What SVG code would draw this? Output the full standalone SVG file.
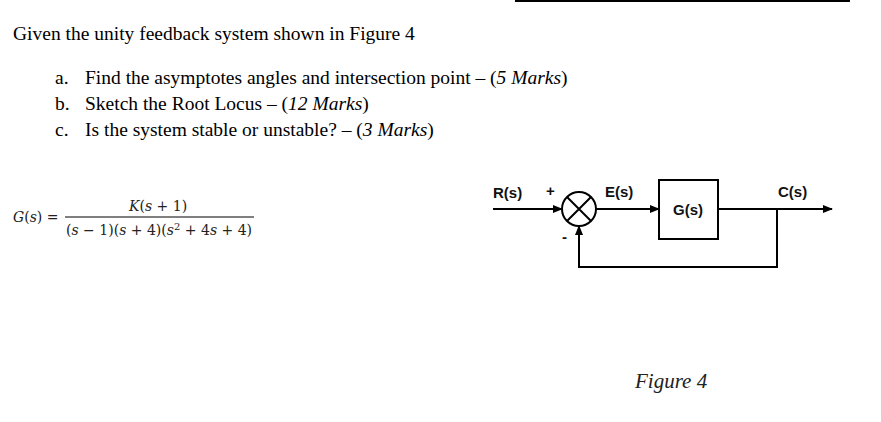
<svg xmlns="http://www.w3.org/2000/svg" width="881" height="422" viewBox="0 0 881 422">
<style>
.t{font-family:"Liberation Serif",serif;font-size:19.5px;fill:#000}
.m{font-family:"DejaVu Serif","Liberation Serif",serif;font-size:14px;fill:#222}
.b{font-family:"Liberation Sans",sans-serif;font-size:15px;font-weight:bold;fill:#111}
.w{stroke:#000;stroke-width:2;fill:none}
</style>
<defs><marker id="a" markerWidth="10" markerHeight="8" refX="9" refY="4" orient="auto" markerUnits="userSpaceOnUse"><path d="M0,0L10,4L0,8z" fill="#000"/></marker></defs>
<rect width="881" height="422" fill="#fff"/>
<line x1="515" y1="1" x2="850" y2="1" stroke="#000" stroke-width="2"/>
<text class="t" x="13" y="40">Given the unity feedback system shown in Figure 4</text>
<g class="t">
<text class="t" x="55" y="84">a.</text><text class="t" x="85" y="84">Find the asymptotes angles and intersection point – (<tspan font-style="italic">5 Marks</tspan>)</text>
<text class="t" x="55" y="110">b.</text><text class="t" x="85" y="110">Sketch the Root Locus – (<tspan font-style="italic">12 Marks</tspan>)</text>
<text class="t" x="55" y="136">c.</text><text class="t" x="85" y="136">Is the system stable or unstable? – (<tspan font-style="italic">3 Marks</tspan>)</text>
</g>
<g id="eq">
<text class="m" x="13" y="222" font-style="italic">G<tspan font-style="normal">(</tspan>s<tspan font-style="normal">) =</tspan></text>
<text class="m" x="129" y="211"><tspan font-style="italic">K</tspan>(<tspan font-style="italic">s</tspan> + 1)</text>
<line x1="65" y1="217" x2="254" y2="217" stroke="#000" stroke-width="1"/>
<text class="m" x="66" y="235">(<tspan font-style="italic">s</tspan> − 1)(<tspan font-style="italic">s</tspan> + 4)(<tspan font-style="italic">s</tspan><tspan font-size="10" dy="-5">2</tspan><tspan dy="5"> + 4</tspan><tspan font-style="italic">s</tspan> + 4)</text>
</g>
<g id="sum"><circle cx="579" cy="209" r="17" class="w"/><path d="M567,197L591,221M591,197L567,221" class="w"/></g>
<g id="G"><rect x="659" y="180" width="59" height="59" class="w"/><text class="b" x="688" y="215" text-anchor="middle" font-weight="normal">G(s)</text></g>
<g id="conn">
<line x1="493" y1="209" x2="562" y2="209" class="w" marker-end="url(#a)"/>
<line x1="596" y1="209" x2="659" y2="209" class="w" marker-end="url(#a)"/>
<line x1="718" y1="209" x2="832" y2="209" class="w" marker-end="url(#a)"/>
<polyline points="777,209 777,267 579,267 579,226" class="w" marker-end="url(#a)"/>
</g>
<g id="labels">
<text class="b" x="493" y="198">R(s)</text>
<text class="b" x="546" y="196" font-size="12">+</text>
<text class="b" x="605" y="197">E(s)</text>
<text class="b" x="778" y="197">C(s)</text>
<text class="b" x="562" y="242">-</text>
</g>
<text x="635" y="388" font-family="Liberation Serif,serif" font-style="italic" font-size="21" fill="#222">Figure 4</text>
</svg>
